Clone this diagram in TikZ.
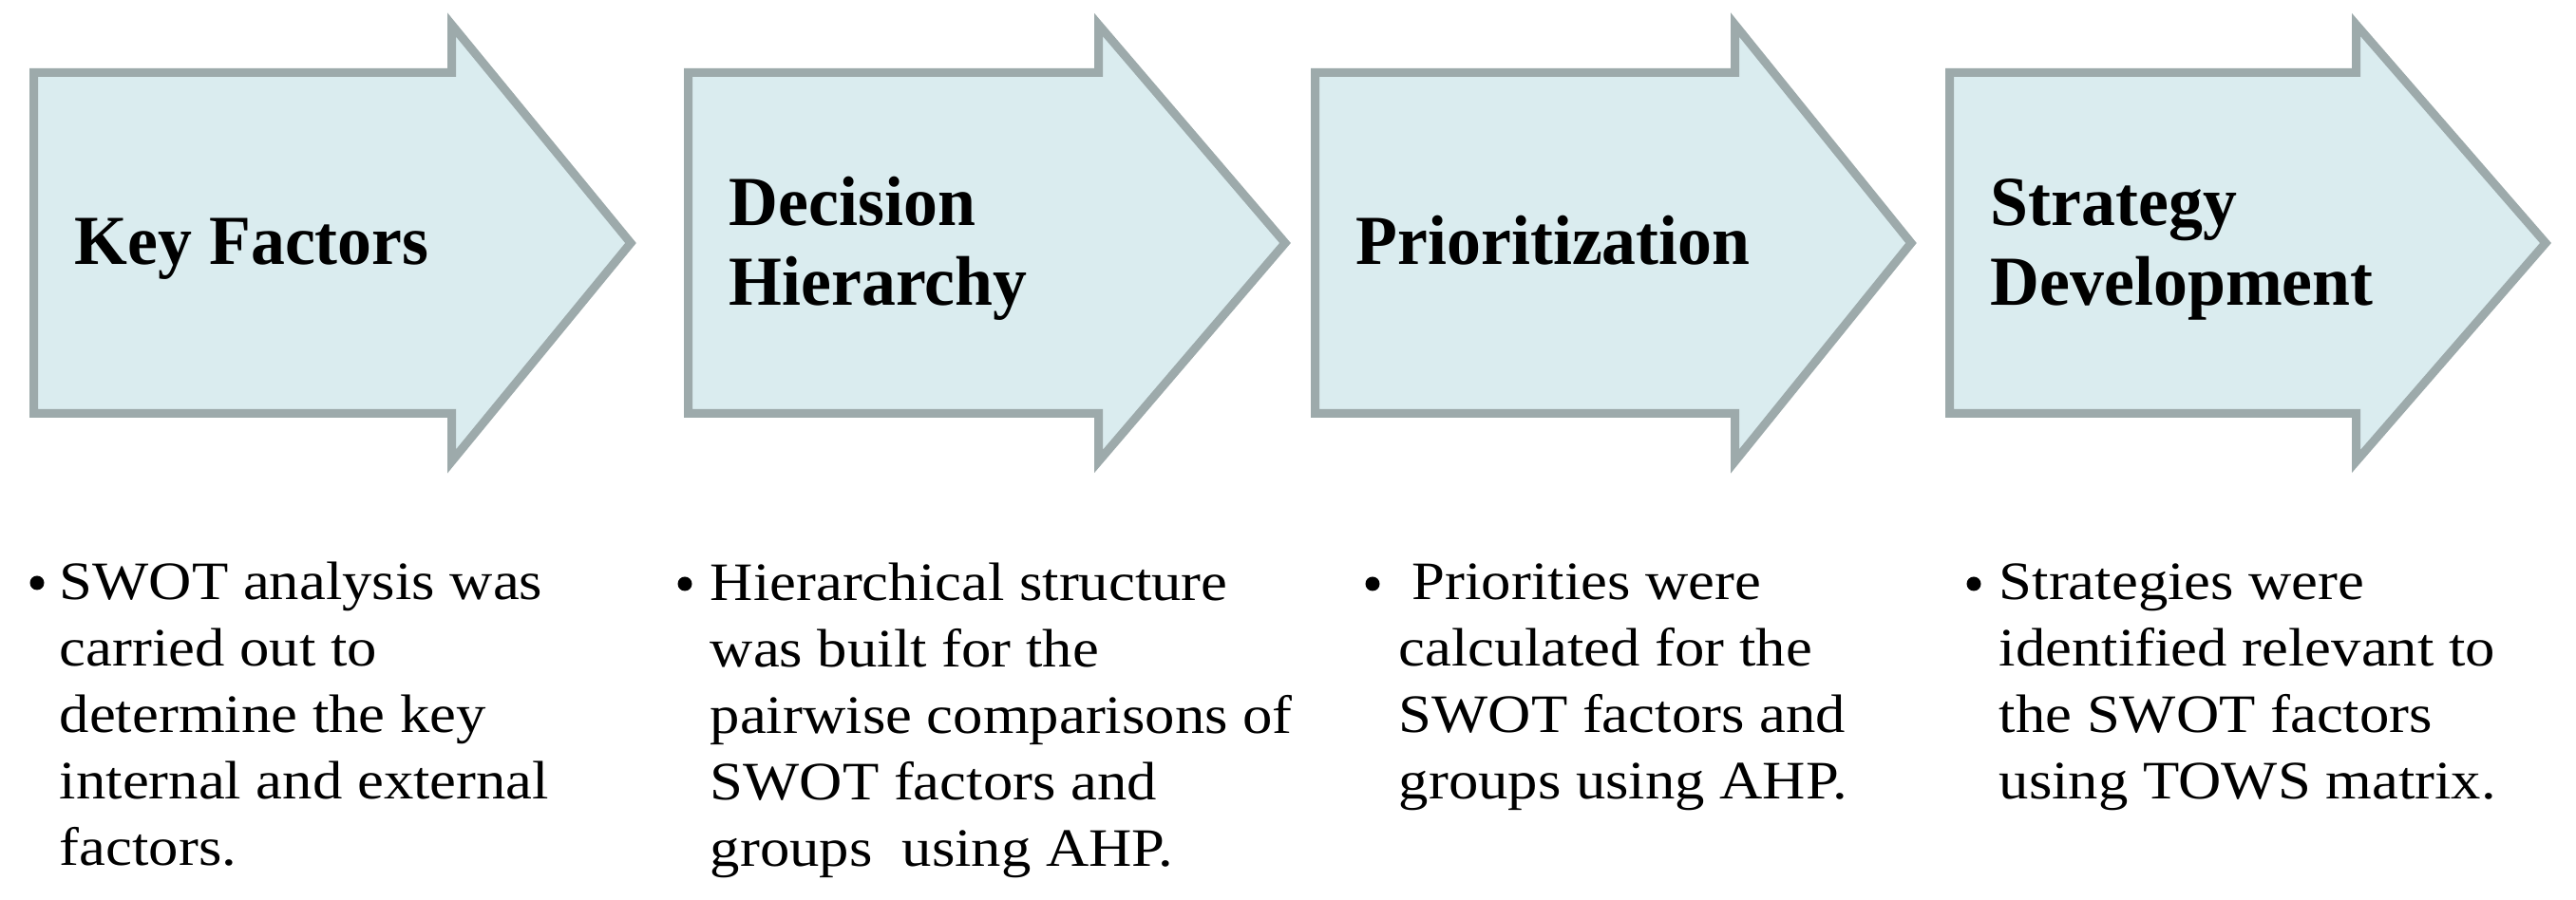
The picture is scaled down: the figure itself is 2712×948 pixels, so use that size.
\documentclass[tikz,border=0pt]{standalone}
\usepackage{fontspec}
\setmainfont[FakeStretch=1.1]{Liberation Serif}
\newfontfamily\headfont[FakeStretch=0.97]{Liberation Serif}
\definecolor{arrowfill}{RGB}{218,236,239}
\definecolor{arrowline}{RGB}{157,170,171}
\begin{document}
\begin{tikzpicture}[x=0.25pt,y=-0.25pt,
  stepshape/.style={fill=arrowfill,draw=arrowline,line width=2.25pt,line join=miter},
  headtext/.style={anchor=base west,inner sep=0pt,align=left,font=\headfont\bfseries\fontsize{18.5pt}{21pt}\selectfont},
  bodytext/.style={anchor=base west,inner sep=0pt,align=left,font=\fontsize{14.25pt}{17.5pt}\selectfont},
  bulletdot/.style={circle,fill=black,inner sep=0pt,minimum size=3.75pt}]
\useasboundingbox (0,0) rectangle (2712,948);
\fill[white] (0,0) rectangle (2712,948);
% arrows
\foreach \L/\H/\T in {31/471/670,720/1152/1359,1380/1822/2018,2048/2476/2686}{
  \draw[stepshape] (\L+4.5,76.5) -- (\H+4.5,76.5) -- (\H+4.5,26) -- (\T-6,256) -- (\H+4.5,486) -- (\H+4.5,435.5) -- (\L+4.5,435.5) -- cycle;
}
% headings (anchor = baseline of last line)
\node[headtext] (h1) at (78,279) {Key Factors};
\node[headtext] (h2) at (767,322) {Decision\\Hierarchy};
\node[headtext] (h3) at (1427,279) {Prioritization};
\node[headtext] (h4) at (2095,322) {Strategy\\Development};
% bullets
\node[bulletdot] (b1) at (39,614) {};
\node[bulletdot] (b2) at (721,615) {};
\node[bulletdot] (b3) at (1445,615) {};
\node[bulletdot] (b4) at (2078,615) {};
% body texts (anchor = baseline of last line)
\node[bodytext] (t1) at (62,912) {SWOT analysis was\\carried out to\\determine the key\\internal and external\\factors.};
\node[bodytext] (t2) at (747,913) {Hierarchical structure\\was built for the\\pairwise comparisons of\\SWOT factors and\\groups\ \ using AHP.};
\node[bodytext] (t3) at (1472,842) {\hspace*{3.5pt}Priorities were\\calculated for the\\SWOT factors and\\groups using AHP.};
\node[bodytext] (t4) at (2104,842) {Strategies were\\identified relevant to\\the SWOT factors\\using TOWS matrix.};
\end{tikzpicture}
\end{document}
